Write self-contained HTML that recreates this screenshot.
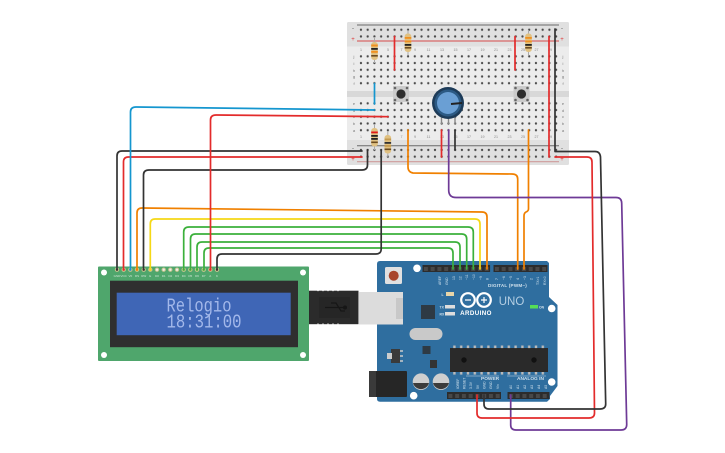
<!DOCTYPE html>
<html><head><meta charset="utf-8"><style>
html,body{margin:0;padding:0;background:#fff;width:725px;height:453px;overflow:hidden}
svg{display:block}
text{font-family:"Liberation Sans",sans-serif}
.w{fill:none;stroke-width:1.7;stroke-linejoin:round;stroke-linecap:round}
</style></head><body>
<svg width="725" height="453" viewBox="0 0 725 453" xmlns="http://www.w3.org/2000/svg">
<defs>
<pattern id="h" patternUnits="userSpaceOnUse" x="0" y="0" width="6.73" height="6.72"><circle cx="3.36" cy="3.36" r="1.15" fill="#4a4a4a"/></pattern>
<pattern id="hd" patternUnits="userSpaceOnUse" x="0" y="0" width="6.76" height="8"><rect width="6.76" height="8" fill="#2c2c2c"/><rect x="1.4" y="2" width="4" height="4" fill="#484848"/></pattern>
<pattern id="cp" patternUnits="userSpaceOnUse" x="0" y="0" width="6.8" height="3"><rect x="2.2" width="2.4" height="3" fill="#bbb"/></pattern>
</defs>

<!-- breadboard -->
<rect x="347" y="22" width="222" height="143" rx="1.5" fill="#e0e0e0"/>
<rect x="347" y="46.5" width="222" height="44.5" fill="#ececec"/>
<rect x="347" y="97" width="222" height="43" fill="#ececec"/>
<rect x="347" y="91" width="222" height="6" fill="#d8d8d8"/>
<path d="M357 25H559M357 145.7H559" stroke="#6a6a6a" stroke-width="1"/>
<path d="M357 41H559" stroke="#d64a4a" stroke-width="1"/>
<path d="M357 161.7H559" stroke="#cf9c9c" stroke-width="1.2"/>
<g transform="translate(357.6,26.4)"><rect width="202" height="13.4" fill="url(#h)"/></g>
<g transform="translate(357.6,53)"><rect width="202" height="33.6" fill="url(#h)"/></g>
<g transform="translate(357.6,100)"><rect width="202" height="33.6" fill="url(#h)"/></g>
<g transform="translate(357.6,146.6)"><rect width="202" height="13.4" fill="url(#h)"/></g>
<g font-size="4" fill="#777" text-anchor="middle">
<text x="354" y="58">j</text><text x="354" y="65">i</text><text x="354" y="72">h</text><text x="354" y="78">g</text><text x="354" y="85">f</text>
<text x="354" y="105">e</text><text x="354" y="112">d</text><text x="354" y="118">c</text><text x="354" y="125">b</text><text x="354" y="132">a</text>
<text x="563" y="58">j</text><text x="563" y="65">i</text><text x="563" y="72">h</text><text x="563" y="78">g</text><text x="563" y="85">f</text>
<text x="563" y="105">e</text><text x="563" y="112">d</text><text x="563" y="118">c</text><text x="563" y="125">b</text><text x="563" y="132">a</text>
</g>
<g font-size="3.6" fill="#888" text-anchor="middle">
<text x="361" y="51">1</text><text x="374.5" y="51">3</text><text x="388" y="51">5</text><text x="401.5" y="51">7</text><text x="415" y="51">9</text><text x="428.5" y="51">11</text><text x="442" y="51">13</text><text x="455.5" y="51">15</text><text x="469" y="51">17</text><text x="482.5" y="51">19</text><text x="496" y="51">21</text><text x="509.5" y="51">23</text><text x="523" y="51">25</text><text x="536.5" y="51">27</text><text x="550" y="51">29</text>
<text x="361" y="138">1</text><text x="374.5" y="138">3</text><text x="388" y="138">5</text><text x="401.5" y="138">7</text><text x="415" y="138">9</text><text x="428.5" y="138">11</text><text x="442" y="138">13</text><text x="455.5" y="138">15</text><text x="469" y="138">17</text><text x="482.5" y="138">19</text><text x="496" y="138">21</text><text x="509.5" y="138">23</text><text x="523" y="138">25</text><text x="536.5" y="138">27</text><text x="550" y="138">29</text>
</g>
<g font-size="6" text-anchor="middle">
<text x="353" y="30" fill="#555">-</text><text x="562" y="30" fill="#555">-</text>
<text x="353" y="41" fill="#d33">+</text><text x="562" y="41" fill="#d33">+</text>
<text x="353" y="150" fill="#555">-</text><text x="562" y="150" fill="#555">-</text>
<text x="353" y="161" fill="#d33">+</text><text x="562" y="161" fill="#d33">+</text>
</g>

<!-- breadboard jumpers -->
<g>
<path class="w" d="M394.5 36.5V70" stroke="#e32b2b"/>
<path class="w" d="M515 36.5V70" stroke="#e32b2b"/>
<path class="w" d="M549 36.5V157" stroke="#e32b2b"/>
<path class="w" d="M374.5 83.5V104" stroke="#1496cf"/>
<path class="w" d="M441.5 130V157" stroke="#e32b2b"/>
<path class="w" d="M455 130V150" stroke="#333"/>
</g>

<!-- buttons -->
<rect x="393" y="86" width="16" height="16" fill="#cbcbcb"/>
<circle cx="395" cy="88" r="1.3" fill="#666"/><circle cx="407" cy="88" r="1.3" fill="#666"/><circle cx="395" cy="100" r="1.3" fill="#666"/><circle cx="407" cy="100" r="1.3" fill="#666"/>
<circle cx="401" cy="94" r="4.6" fill="#2e2e2e"/>
<rect x="513.5" y="86" width="16" height="16" fill="#cbcbcb"/>
<circle cx="515.5" cy="88" r="1.3" fill="#666"/><circle cx="527.5" cy="88" r="1.3" fill="#666"/><circle cx="515.5" cy="100" r="1.3" fill="#666"/><circle cx="527.5" cy="100" r="1.3" fill="#666"/>
<circle cx="521.5" cy="94" r="4.6" fill="#2e2e2e"/>

<!-- potentiometer -->
<path d="M441.5 118V124M448.5 118V124M455 118V124" stroke="#888" stroke-width="1.4"/>
<circle cx="448" cy="103" r="16" fill="#1d3b58"/>
<circle cx="448" cy="103" r="13.5" fill="#2c5a84"/>
<circle cx="448" cy="103" r="11" fill="#6a9fd4"/>
<path d="M451 104L462 103" stroke="#222" stroke-width="2"/>

<!-- resistors -->
<path d="M374.5 37V63" stroke="#aaa" stroke-width="1"/>
<rect x="371.2" y="42" width="6.6" height="18" rx="2.8" fill="#e0c182"/>
<rect x="371.2" y="44.5" width="6.6" height="2" fill="#f09020"/><rect x="371.2" y="48" width="6.6" height="1.8" fill="#222"/><rect x="371.2" y="51" width="6.6" height="1.8" fill="#f09020"/><rect x="371.2" y="55" width="6.6" height="1.6" fill="#6a4a20"/>
<path d="M408 30V55" stroke="#aaa" stroke-width="1"/>
<rect x="404.7" y="33.5" width="6.6" height="18.5" rx="2.8" fill="#e0c182"/>
<rect x="404.7" y="37" width="6.6" height="1.8" fill="#f09020"/><rect x="404.7" y="40.5" width="6.6" height="1.8" fill="#f09020"/><rect x="404.7" y="44" width="6.6" height="1.8" fill="#222"/><rect x="404.7" y="47" width="6.6" height="1.6" fill="#6a4a20"/>
<path d="M528.5 30V55" stroke="#aaa" stroke-width="1"/>
<rect x="525.2" y="33.5" width="6.6" height="18.5" rx="2.8" fill="#e0c182"/>
<rect x="525.2" y="37" width="6.6" height="1.8" fill="#f09020"/><rect x="525.2" y="40.5" width="6.6" height="1.8" fill="#f09020"/><rect x="525.2" y="44" width="6.6" height="1.8" fill="#222"/><rect x="525.2" y="47" width="6.6" height="1.6" fill="#6a4a20"/>
<path d="M374.5 124V150" stroke="#aaa" stroke-width="1"/>
<rect x="371.2" y="128" width="6.6" height="18.5" rx="2.8" fill="#e0c182"/>
<rect x="371.2" y="131.5" width="6.6" height="1.8" fill="#e01818"/><rect x="371.2" y="135" width="6.6" height="1.8" fill="#222"/><rect x="371.2" y="138" width="6.6" height="1.8" fill="#222"/><rect x="371.2" y="141.5" width="6.6" height="1.6" fill="#6a4a20"/>
<path d="M387.8 131V157" stroke="#aaa" stroke-width="1"/>
<rect x="384.5" y="135" width="6.6" height="18.5" rx="2.8" fill="#e0c182"/>
<rect x="384.5" y="138.5" width="6.6" height="1.8" fill="#c49a50"/><rect x="384.5" y="142" width="6.6" height="1.8" fill="#333"/><rect x="384.5" y="145" width="6.6" height="1.8" fill="#c49a50"/><rect x="384.5" y="148.5" width="6.6" height="1.6" fill="#6a4a20"/>

<!-- LCD -->
<rect x="98" y="266.5" width="211" height="94.5" rx="1" fill="#4fa66c"/>
<circle cx="104" cy="272.5" r="3" fill="#fff"/><circle cx="303" cy="272.5" r="3" fill="#fff"/><circle cx="104" cy="355" r="3" fill="#fff"/><circle cx="303" cy="355" r="3" fill="#fff"/>
<rect x="110" y="280.7" width="188" height="66.5" fill="#2f2f2f"/>
<rect x="116.7" y="292.7" width="174" height="42.5" fill="#3f66b6"/>
<text x="166.5" y="311.7" font-size="19" style="font-family:'Liberation Mono',monospace" fill="#a3b8ea" textLength="65" lengthAdjust="spacingAndGlyphs">Relogio</text>
<text x="166.5" y="327.5" font-size="19" style="font-family:'Liberation Mono',monospace" fill="#a3b8ea" textLength="75" lengthAdjust="spacingAndGlyphs">18:31:00</text>
<g stroke="#c9c48e" stroke-width="1" fill="#333">
<circle cx="117" cy="269.7" r="1.7"/><circle cx="123.7" cy="269.7" r="1.7" fill="#e32b2b"/><circle cx="130.3" cy="269.7" r="1.7" fill="#1496cf"/><circle cx="137" cy="269.7" r="1.7" fill="#f08000"/><circle cx="143.7" cy="269.7" r="1.7"/><circle cx="150.3" cy="269.7" r="1.7" fill="#f5d816"/><circle cx="157" cy="269.7" r="1.7" fill="#eee"/><circle cx="163.7" cy="269.7" r="1.7" fill="#eee"/><circle cx="170.3" cy="269.7" r="1.7" fill="#eee"/><circle cx="177" cy="269.7" r="1.7" fill="#eee"/><circle cx="183.7" cy="269.7" r="1.7" fill="#3bb03b"/><circle cx="190.3" cy="269.7" r="1.7" fill="#3bb03b"/><circle cx="197" cy="269.7" r="1.7" fill="#3bb03b"/><circle cx="203.7" cy="269.7" r="1.7" fill="#3bb03b"/><circle cx="210.3" cy="269.7" r="1.7" fill="#e32b2b"/><circle cx="217" cy="269.7" r="1.7"/>
</g>
<g fill="#cfe3d5" font-size="3" text-anchor="middle">
<text x="117" y="277">GND</text><text x="123.7" y="277">VCC</text><text x="130.3" y="277">V0</text><text x="137" y="277">RS</text><text x="143.7" y="277">RW</text><text x="150.3" y="277">E</text><text x="157" y="277">D0</text><text x="163.7" y="277">D1</text><text x="170.3" y="277">D2</text><text x="177" y="277">D3</text><text x="183.7" y="277">D4</text><text x="190.3" y="277">D5</text><text x="197" y="277">D6</text><text x="203.7" y="277">D7</text><text x="210.3" y="277">A</text><text x="217" y="277">K</text>
</g>

<!-- Arduino -->
<path d="M380 261H547L549 263V297L557.5 305V386L550 396V399L547 401.7H380Q377 401.7 377 399V264Q377 261 380 261Z" fill="#2f6e9f"/>
<rect x="359" y="292" width="44" height="32.5" fill="#dcdcdc"/>
<rect x="396" y="298" width="7" height="21" fill="#c8c8c8"/>
<rect x="309" y="290.7" width="49.5" height="33.5" fill="#2b2b2b"/>
<rect x="319" y="297" width="31" height="21" fill="#262626"/>
<path d="M317 290.7h2M322 290.7h2M327 290.7h2M332 290.7h2M337 290.7h2M317 324h2M322 324h2M327 324h2M332 324h2M337 324h2" stroke="#ddd" stroke-width=".8"/>
<path d="M325 307.5H345M331 303L336 303 341 311 345 311" stroke="#161616" stroke-width="1.2" fill="none"/>
<circle cx="345" cy="307.5" r="2" fill="#161616"/>
<rect x="385" y="267" width="17" height="17" rx="1.5" fill="#e0e0e0"/>
<circle cx="393.7" cy="275.7" r="5" fill="#a8452c"/>
<circle cx="417" cy="268.3" r="3.8" fill="#fff"/><circle cx="551.7" cy="308.5" r="3.8" fill="#fff"/><circle cx="551.7" cy="382" r="3.8" fill="#fff"/><circle cx="413.7" cy="395.7" r="3.8" fill="#fff"/>
<g transform="translate(422.5,265)"><rect width="67.6" height="7" fill="url(#hd)"/></g>
<g transform="translate(493.5,265)"><rect width="54" height="7" fill="url(#hd)"/></g>
<g transform="translate(447,392)"><rect width="54" height="7" fill="url(#hd)"/></g>
<g transform="translate(507.5,392)"><rect width="42" height="7" fill="url(#hd)"/></g>
<rect x="421" y="305" width="14" height="14" fill="#2e3a44"/>
<rect x="409.5" y="328" width="33" height="12" rx="6" fill="#c9c9c9"/>
<rect x="422.5" y="346" width="8" height="8" fill="#2e3a44"/>
<rect x="391" y="349" width="9" height="14" fill="#3a3a3a"/>
<rect x="387" y="353" width="5" height="6" fill="#ccc"/>
<path d="M400 351H403M400 356H403M400 361H403" stroke="#ccc" stroke-width="1.6"/>
<rect x="430" y="360" width="7" height="8" fill="#333"/>
<rect x="369" y="371" width="38" height="26" rx="1" fill="#262626"/>
<rect x="369" y="371" width="7" height="26" fill="#3a3a3a"/>
<circle cx="421" cy="381.7" r="8.3" fill="#cfcfcf"/><path d="M413 383A8.3 8.3 0 0 0 429 383Z" fill="#3b3b3b"/>
<circle cx="441" cy="381.7" r="8.3" fill="#cfcfcf"/><path d="M433 383A8.3 8.3 0 0 0 449 383Z" fill="#3b3b3b"/>
<rect x="450" y="348" width="98" height="24" fill="#2a2a2a"/>
<g transform="translate(451,345.5)"><rect width="96" height="2.6" fill="url(#cp)"/></g>
<g transform="translate(451,372)"><rect width="96" height="2.6" fill="url(#cp)"/></g>
<circle cx="464" cy="360" r="2.7" fill="#111"/><circle cx="534" cy="360" r="2.7" fill="#111"/>
<rect x="446" y="292" width="8" height="4" fill="#e9d5a8"/>
<rect x="445" y="305" width="10" height="3.5" fill="#ddd"/><rect x="445" y="312" width="10" height="3.5" fill="#ddd"/>
<rect x="530" y="305" width="8" height="3.5" fill="#55dd55"/>
<g fill="none" stroke="#fff" stroke-width="2.2"><circle cx="468" cy="300" r="6.8"/><circle cx="484" cy="300" r="6.8"/></g>
<path d="M465 300H471M481 300H487M484 297V303" stroke="#fff" stroke-width="1.2"/>
<text x="476" y="315" font-size="6.2" font-weight="bold" fill="#fff" text-anchor="middle" letter-spacing=".4">ARDUINO</text>
<text x="511.5" y="305" font-size="11.5" fill="#b5cfe3" text-anchor="middle">UNO</text>
<g fill="#cfe0ec" font-weight="bold">
<text x="488" y="287" font-size="4.6" letter-spacing=".2">DIGITAL (PWM~)</text>
<text x="481" y="380" font-size="4.8">POWER</text>
<text x="517" y="380" font-size="4.8">ANALOG IN</text>
<text x="539" y="308.5" font-size="3.4">ON</text>
<text x="439.5" y="308.5" font-size="3.4">TX</text>
<text x="439.5" y="315.5" font-size="3.4">RX</text>
<text x="441.5" y="296" font-size="3.4">L</text>
</g>
<path d="M466 376H499M507 376H546" stroke="#cfe0ec" stroke-width=".6"/>
<g fill="#cfe0ec" font-size="3.4" text-anchor="start">
<text transform="translate(441,285) rotate(-90)">AREF</text>
<text transform="translate(448,285) rotate(-90)">GND</text>
<text transform="translate(455,280) rotate(-90)">13</text>
<text transform="translate(461.5,280) rotate(-90)">12</text>
<text transform="translate(468,280) rotate(-90)">~11</text>
<text transform="translate(475,280) rotate(-90)">~10</text>
<text transform="translate(482,280) rotate(-90)">~9</text>
<text transform="translate(488.5,280) rotate(-90)">8</text>
<text transform="translate(498,280) rotate(-90)">7</text>
<text transform="translate(505,280) rotate(-90)">~6</text>
<text transform="translate(512,280) rotate(-90)">~5</text>
<text transform="translate(519,280) rotate(-90)">4</text>
<text transform="translate(526,280) rotate(-90)">~3</text>
<text transform="translate(532.5,280) rotate(-90)">2</text>
<text transform="translate(539,285) rotate(-90)">TX&gt;1</text>
<text transform="translate(546,285) rotate(-90)">RX&lt;0</text>
<text transform="translate(459,389) rotate(-90)">IOREF</text>
<text transform="translate(465.5,389) rotate(-90)">RESET</text>
<text transform="translate(472,389) rotate(-90)">3.3V</text>
<text transform="translate(479,389) rotate(-90)">5V</text>
<text transform="translate(485.5,389) rotate(-90)">GND</text>
<text transform="translate(492,389) rotate(-90)">GND</text>
<text transform="translate(499,389) rotate(-90)">Vin</text>
<text transform="translate(512,389) rotate(-90)">A0</text>
<text transform="translate(519,389) rotate(-90)">A1</text>
<text transform="translate(526,389) rotate(-90)">A2</text>
<text transform="translate(533,389) rotate(-90)">A3</text>
<text transform="translate(540,389) rotate(-90)">A4</text>
<text transform="translate(547,389) rotate(-90)">A5</text>
</g>

<!-- long wires -->
<path class="w" stroke="#333" d="M117 269V156Q117 151 122 151L362 151"/>
<path class="w" stroke="#e32b2b" d="M123.5 269V162Q123.5 157 128.5 157L362 157"/>
<path class="w" stroke="#1496cf" d="M130.5 269V112Q130.5 107 136 107L374.5 110"/>
<path class="w" stroke="#f08000" d="M137 269V213Q137 208 142 208L482 212Q487 212 487 217V269"/>
<path class="w" stroke="#333" d="M143.5 269V175Q143.5 170 149 170L362 170Q367.5 170 367.5 165V150"/>
<path class="w" stroke="#f5d816" d="M150.3 269V224Q150.3 219 155 219L475 219Q480 219 480 224V269"/>
<path class="w" stroke="#3bb03b" d="M183.7 269V232Q183.7 227 189 227L468 227Q473.3 227 473.3 232V269"/>
<path class="w" stroke="#3bb03b" d="M190.5 269V239Q190.5 234 195.5 234L461.5 234Q466.7 234 466.7 239V269"/>
<path class="w" stroke="#3bb03b" d="M197 269V247Q197 242 202 242L455 242Q460 242 460 247V269"/>
<path class="w" stroke="#3bb03b" d="M204 269V253Q204 248 209 248L448 248Q453 248 453 253V269"/>
<path class="w" stroke="#e32b2b" d="M210.5 269V120Q210.5 115 216 115L388 116.7"/>
<path class="w" stroke="#333" d="M217 269V259Q217 254 222 254L376 254Q381.2 254 381.2 249V150"/>
<path class="w" stroke="#f08000" d="M408 130V167Q408 172 413 173L512 174Q517.7 174 517.7 179V269"/>
<path class="w" stroke="#f08000" d="M528.5 130V209Q528.5 211 526 212Q524 213 524 216V269"/>
<path class="w" stroke="#6e3a96" d="M448.7 130V190Q448.7 197.5 456 197.5L616 197.5Q621.5 197.5 621.7 203L626.7 424Q627 430 621 430L516 430Q510.7 430 510.7 425V395"/>
<path class="w" stroke="#e32b2b" d="M555 157L587 157Q592 157 592 162L594.5 413Q594.5 418 589 418L482 418Q477 418 477 413V395"/>
<path class="w" stroke="#333" d="M555 29V151.5H595Q600 151.5 600.5 157L605.7 404Q605.7 409 600 409L489 409Q484 409 484 404V395"/>
</svg>
</body></html>
